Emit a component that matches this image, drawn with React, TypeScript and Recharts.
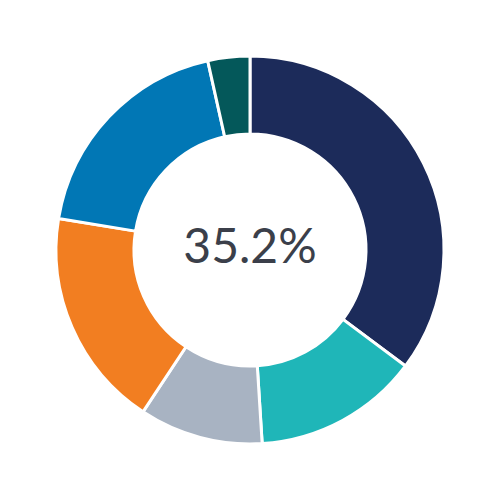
import React from "react";
import { PieChart, Pie, Cell } from "recharts";

const categories = ["A", "B", "C", "D", "E", "F"];
const values = [35.2, 13.8, 10.3, 18.3, 18.9, 3.5];
const colors = ["#1c2b5a", "#1fb6b8", "#a8b3c2", "#f27e21", "#0177b5", "#04585a"];
const centerLabel = "35.2%";

const data = categories.map((name, i) => ({ name, value: values[i] }));

export default function App() {
  return (
    <div style={{ position: "absolute", left: 0, top: 0, width: 500, height: 500, background: "#fff" }}>
      <PieChart width={500} height={500} margin={{ top: 0, right: 0, bottom: 0, left: 0 }}>
        <Pie
          data={data}
          dataKey="value"
          nameKey="name"
          cx={250}
          cy={250}
          innerRadius={116}
          outerRadius={194}
          startAngle={90}
          endAngle={-270}
          stroke="#ffffff"
          strokeWidth={3}
          isAnimationActive={false}
        >
          {data.map((d, i) => (
            <Cell key={d.name} fill={colors[i]} />
          ))}
        </Pie>
        <text
          x={250}
          y={244}
          textAnchor="middle"
          dominantBaseline="central"
          fontFamily="Lato"
          fontSize={48}
          fill="#3b3f4a"
        >
          {centerLabel}
        </text>
      </PieChart>
    </div>
  );
}
